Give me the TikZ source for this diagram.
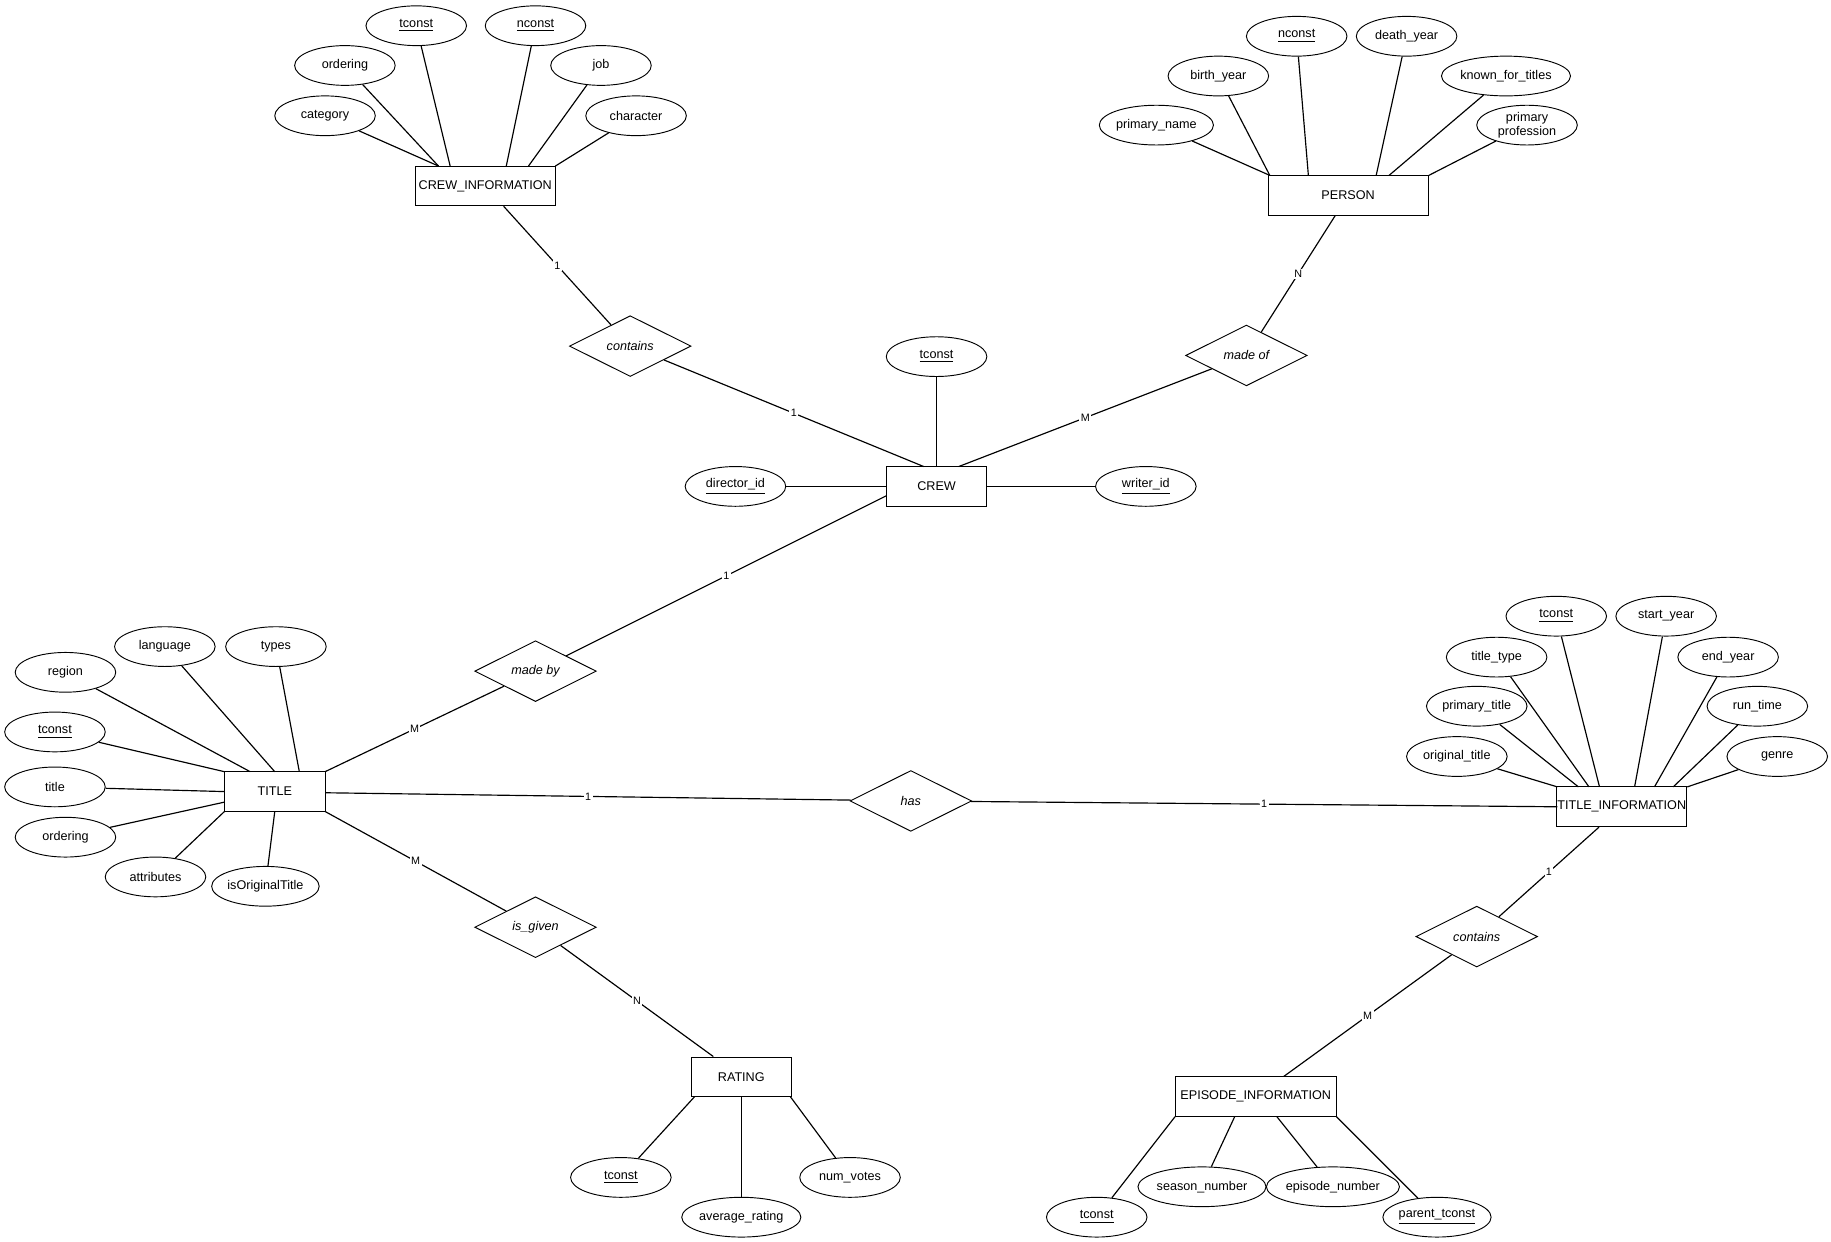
\documentclass[tikz,border=0pt]{standalone}
\usepackage{fontspec}
\setmainfont{Liberation Sans}
\usetikzlibrary{shapes.geometric}
\begin{document}
\begin{tikzpicture}[x=0.5pt,y=-0.5pt,
  every node/.style={font=\fontsize{5.4}{6.2}\selectfont,inner sep=0pt},
  ent/.style={draw,rectangle,minimum height=17pt},
  rel/.style={draw,diamond,aspect=2,minimum width=52pt,minimum height=26pt,font=\fontsize{5.4}{6.2}\selectfont\itshape},
  att/.style={draw,ellipse,minimum width=43pt,minimum height=17pt,align=center},
  lbl/.style={fill=white,inner sep=0.6pt,font=\fontsize{4.6}{5}\selectfont},
  ln/.style={draw,line width=0.5pt}]
\useasboundingbox (0,0) rectangle (1566,1062);
% entities
\node[ent,minimum width=60pt] (ci) at (415,159) {CREW\_INFORMATION};
\node[ent,minimum width=68.5pt] (pe) at (1153,167) {PERSON};
\node[ent,minimum width=43pt] (cr) at (801,416) {CREW};
\node[ent,minimum width=43pt] (ti) at (235,677) {TITLE};
\node[ent,minimum width=55.5pt] (tin) at (1387,690) {TITLE\_INFORMATION};
\node[ent,minimum width=43pt] (ra) at (634,921) {RATING};
\node[ent,minimum width=69pt] (ep) at (1074,938) {EPISODE\_INFORMATION};
% relations
\node[rel] (c1) at (539,296) {contains};
\node[rel] (mo) at (1066,304) {made of};
\node[rel] (mb) at (458,574) {made by};
\node[rel] (ha) at (779,685) {has};
\node[rel] (ig) at (458,793) {is\_given};
\node[rel] (c2) at (1263,801) {contains};
% attributes crew_information
\node[att] (a1) at (278,99) {category};
\node[att] (a2) at (295,56) {ordering};
\node[att] (a3) at (356,22) {\underline{tconst}};
\node[att] (a4) at (458,22) {\underline{nconst}};
\node[att] (a5) at (514,56) {job};
\node[att] (a6) at (544,99) {character};
\foreach \a/\x in {a1/375,a2/375,a3/385,a4/433,a5/452,a6/475}
  \draw[ln] (\a) -- (\x,142);
% person
\node[att] (p1) at (989,107) {primary\_name};
\node[att] (p2) at (1042,65) {birth\_year};
\node[att] (p3) at (1109,31) {\underline{nconst}};
\node[att] (p4) at (1203,31) {death\_year};
\node[att] (p5) at (1288,65) {known\_for\_titles};
\node[att] (p6) at (1306,107) {primary\\profession};
\foreach \a/\x in {p1/1086,p2/1086,p3/1119,p4/1177,p5/1188,p6/1222}
  \draw[ln] (\a) -- (\x,150);
% crew
\node[att] (k1) at (801,305) {\underline{tconst}};
\node[att] (k2) at (629,416) {\underline{director\_id}};
\node[att] (k3) at (980,416) {\underline{writer\_id}};
\draw[ln] (k1) -- (cr); \draw[ln] (k2) -- (cr); \draw[ln] (k3) -- (cr);
% title
\node[att] (t1) at (56,575) {region};
\node[att] (t2) at (141,553) {language};
\node[att] (t3) at (236,553) {types};
\node[att] (t4) at (47,626) {\underline{tconst}};
\node[att] (t5) at (47,673) {title};
\node[att] (t6) at (56,716) {ordering};
\node[att] (t7) at (133,750) {attributes};
\node[att] (t8) at (227,758) {isOriginalTitle};
\draw[ln] (t1) -- (214,660); \draw[ln] (t2) -- (235,660); \draw[ln] (t3) -- (256,660);
\draw[ln] (t4) -- (192,660); \draw[ln] (t5) -- (192,677); \draw[ln] (t6) -- (192,686);
\draw[ln] (t7) -- (192,694); \draw[ln] (t8) -- (235,694);
% title information
\node[att] (i1) at (1331,527) {\underline{tconst}};
\node[att] (i2) at (1425,527) {start\_year};
\node[att] (i3) at (1280,562) {title\_type};
\node[att] (i4) at (1478,562) {end\_year};
\node[att] (i5) at (1263,604) {primary\_title};
\node[att] (i6) at (1503,604) {run\_time};
\node[att] (i7) at (1246,647) {original\_title};
\node[att] (i8) at (1520,647) {genre};
\draw[ln] (i1) -- (1368,673); \draw[ln] (i2) -- (1398,673);
\draw[ln] (i3) -- (1359,673); \draw[ln] (i4) -- (1415,673);
\draw[ln] (i5) -- (1350,673); \draw[ln] (i6) -- (1431,673);
\draw[ln] (i7) -- (1332,673); \draw[ln] (i8) -- (1443,673);
% rating
\node[att] (r1) at (531,1007) {\underline{tconst}};
\node[att] (r2) at (634,1041) {average\_rating};
\node[att] (r3) at (727,1007) {num\_votes};
\draw[ln] (r1) -- (594,938); \draw[ln] (r2) -- (634,938); \draw[ln] (r3) -- (676,938);
% episode
\node[att] (e1) at (938,1041) {\underline{tconst}};
\node[att] (e2) at (1028,1015) {season\_number};
\node[att] (e3) at (1140,1015) {episode\_number};
\node[att] (e4) at (1229,1041) {\underline{parent\_tconst}};
\draw[ln] (e1) -- (1005,955); \draw[ln] (e2) -- (1056,955);
\draw[ln] (e3) -- (1092,955); \draw[ln] (e4) -- (1143,955);
% relationships
\draw[ln] (ci) -- node[lbl]{1} (c1);
\draw[ln] (c1) -- node[lbl]{1} (790,399);
\draw[ln] (pe) -- node[lbl]{N} (mo);
\draw[ln] (mo) -- node[lbl]{M} (820,399);
\draw[ln] (758,424) -- node[lbl]{1} (mb);
\draw[ln] (mb) -- node[lbl]{M} (278,660);
\draw[ln] (278,678) -- node[lbl]{1} (ha);
\draw[ln] (ha) -- node[lbl]{1} (1332,690);
\draw[ln] (278,694) -- node[lbl]{M} (ig);
\draw[ln] (ig) -- node[lbl]{N} (ra);
\draw[ln] (tin) -- node[lbl]{1} (c2);
\draw[ln] (c2) -- node[lbl]{M} (ep);
\end{tikzpicture}
\end{document}
